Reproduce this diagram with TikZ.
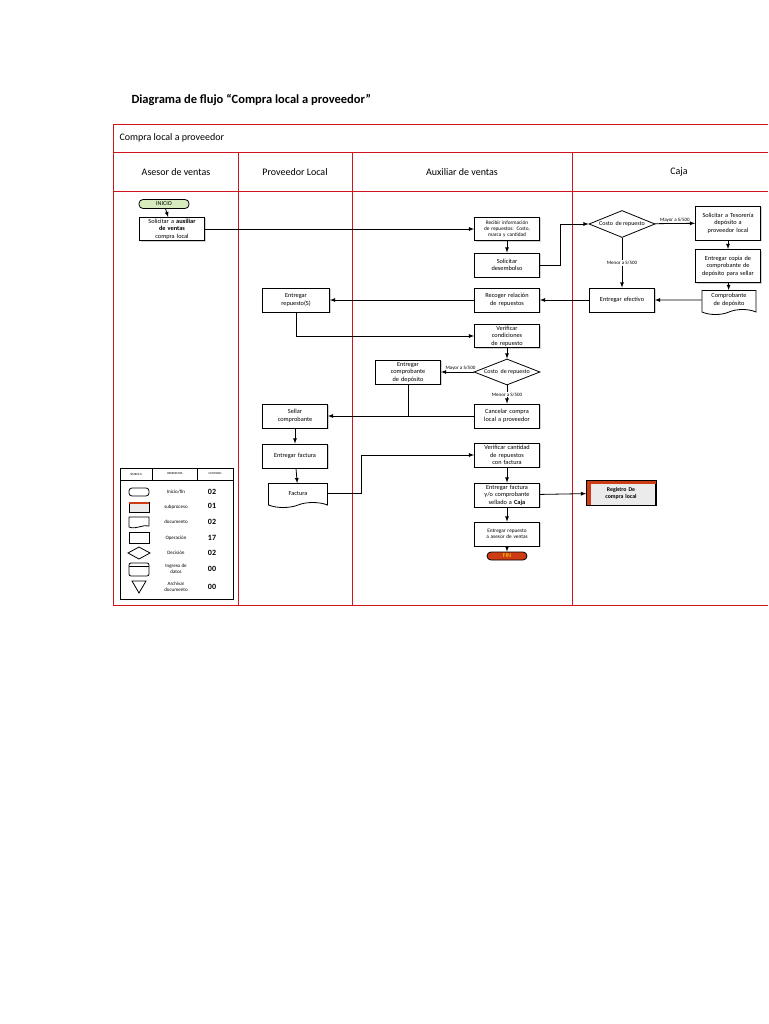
\documentclass[tikz,border=0pt]{standalone}
\usepackage{fontspec}
\setmainfont{Carlito}
\usetikzlibrary{shapes.geometric,shapes.symbols,shadows,calc}
\definecolor{lane}{RGB}{210,20,30}
\definecolor{startg}{RGB}{215,235,190}
\definecolor{finr}{RGB}{205,60,20}
\hyphenpenalty=10000
\exhyphenpenalty=10000
\begin{document}
\begin{tikzpicture}[x=1pt,y=-1pt,
  op/.style={draw,thick,fill=white,drop shadow={shadow xshift=1pt,shadow yshift=-1pt,fill=gray!70},minimum width=65pt,minimum height=24pt,text width=52pt,align=center,inner sep=1pt,font=\fontsize{6.3}{7.5}\selectfont},
  dec/.style={draw,thick,fill=white,diamond,aspect=2.5,minimum width=66pt,minimum height=27pt,inner sep=0pt,font=\fontsize{6}{7}\selectfont},
  term/.style={draw,thick,rounded corners=4pt,minimum height=9pt,inner sep=0pt,font=\fontsize{6}{7}\selectfont},
  doc/.style={draw,thick,fill=white,tape,tape bend top=none,tape bend height=5pt,minimum width=56pt,minimum height=24pt,text width=48pt,align=center,inner sep=1pt,font=\fontsize{6.3}{7.5}\selectfont},
  arr/.style={thick,-latex},
  lbl/.style={font=\fontsize{5}{6}\selectfont,inner sep=1pt},
  leg/.style={font=\fontsize{5}{6}\selectfont,align=center,inner sep=0pt},
  num/.style={font=\bfseries\fontsize{8}{9}\selectfont,inner sep=0pt}]
\useasboundingbox (0,0) rectangle (768,1024);
\fill[white] (0,0) rectangle (768,1024);
\node[anchor=west,font=\fontsize{12.5}{14}\selectfont\bfseries] (title) at (128,100) {Diagrama de flujo “Compra local a proveedor”};
% lanes
\draw[lane] (768,124) -- (113,124) -- (113,605) -- (768,605);
\draw[lane] (113,152) -- (768,152);
\draw[lane] (113,191) -- (768,191);
\foreach \x in {238,352,572} \draw[lane] (\x,152) -- (\x,605);
\node[anchor=west,font=\fontsize{10}{12}\selectfont] (h0) at (116,138) {Compra local a proveedor};
\node[font=\fontsize{10}{12}\selectfont] (h1) at (176,172) {Asesor de ventas};
\node[font=\fontsize{10}{12}\selectfont] (h2) at (295,172) {Proveedor Local};
\node[font=\fontsize{10}{12}\selectfont] (h3) at (462,172) {Auxiliar de ventas};
\node[font=\fontsize{10}{12}\selectfont] (h4) at (679,172) {Caja};
% nodes
\node[term,fill=startg,minimum width=50pt] (ini) at (164,204) {INICIO};
\node[op,minimum height=23pt] (s1) at (172,229) {Solicitar a \textbf{auxiliar de ventas} compra local};
\node[op,minimum height=23pt,font=\fontsize{5.3}{6.3}\selectfont] (rec) at (507,229) {Recibir información de repuestos: Costo, marca y cantidad};
\node[op] (sd) at (507,265) {Solicitar desembolso};
\node[dec] (d1) at (622,224) {Costo \ de repuesto};
\node[op,minimum height=34pt] (tes) at (728,223) {Solicitar a Tesorería depósito a proveedor local};
\node[op,minimum height=33pt,text width=58pt] (cop) at (728,266) {Entregar copia de comprobante de depósito para sellar};
\node[doc,minimum width=54pt] (cd) at (729,300) {Comprobante de depósito};
\node[op] (ef) at (622,300) {Entregar efectivo};
\node[op] (rr) at (507,300) {Recoger relación de repuestos};
\node[op,minimum width=67pt] (er) at (296,300) {Entregar repuesto(S)};
\node[op,minimum height=23pt,text width=50pt] (vc) at (507,336) {Verificar condiciones de repuesto};
\node[dec,minimum height=26pt] (d2) at (507,372) {Costo \ de repuesto};
\node[op,text width=58pt] (ec) at (408,372) {Entregar comprobante de depósito};
\node[op,text width=58pt] (cc) at (507,416) {Cancelar compra local a proveedor};
\node[op,text width=48pt] (sc) at (295,416) {Sellar comprobante};
\node[op] (ent) at (295,456) {Entregar factura};
\node[doc,minimum width=59pt] (fac) at (298,493) {Factura};
\node[op] (vq) at (507,455) {Verificar cantidad de repuestos con factura};
\node[op] (efy) at (507,495) {Entregar factura y/o comprobante sellado a \textbf{Caja}};
\node[op,font=\fontsize{5.3}{6.3}\selectfont] (era) at (507,534) {Entregar repuesto a asesor de ventas};
\node[term,fill=finr,text=yellow!80!orange,minimum width=40pt,minimum height=8pt] (fin) at (507,556) {FIN};
\node[op,fill=black!8,minimum width=69pt,text width=45pt,font=\bfseries\fontsize{5.8}{7}\selectfont] (reg) at (621,493) {Registro De compra local};
\fill[finr] (reg.north west) rectangle ($(reg.north east)+(0,3)$);
\fill[finr] (reg.north west) rectangle ($(reg.south west)+(5,0)$);
\draw[thick] (reg.north west) rectangle (reg.south east);
% edges
\draw[arr] (ini) -- (s1);
\draw[arr] (s1) -- (rec);
\draw[arr] (rec) -- (sd);
\draw[arr] (sd.east) -| (560,224) -- (d1.west);
\draw[arr] (d1) -- node[lbl,above]{Mayor a S/500} (tes);
\draw[arr] (d1) -- node[lbl,fill=white]{Menor a S/500} (ef);
\draw[arr] (tes) -- (cop);
\draw[arr] (cop) -- (cd);
\draw[arr] (cd) -- (ef);
\draw[arr] (ef) -- (rr);
\draw[arr] (rr) -- (er);
\draw[arr] (er.south) |- (vc.west);
\draw[arr] (vc) -- (d2);
\draw[arr] (d2) -- node[lbl,above,pos=0.4]{Mayor a S/500} (ec);
\draw[arr] (d2) -- node[lbl,fill=white]{Menor a S/500} (cc);
\draw[thick] (ec.south) -- (ec.south |- cc.west);
\draw[arr] (cc) -- (sc);
\draw[arr] (sc) -- (ent);
\draw[arr] (ent) -- (fac);
\draw[arr] (fac.east) -| (361,455) -- (vq.west);
\draw[arr] (vq) -- (efy);
\draw[arr] (efy) -- (era);
\draw[arr] (era) -- (fin);
\draw[arr] (efy) -- (reg);
% legend
\draw[thick] (120,468) rectangle (233,599);
\draw[thick] (120,480) -- (233,480);
\draw[thick] (152,468) -- (152,480) (197,468) -- (197,480);
\node[leg,font=\fontsize{3}{4}\selectfont] (l1) at (136,474) {SÍMBOLO};
\node[leg,font=\fontsize{3}{4}\selectfont] (l2) at (175,474) {REPRESENTA};
\node[leg,font=\fontsize{3}{4}\selectfont] (l3) at (215,474) {CANTIDAD};
\draw[thick,rounded corners=3pt] (129,488) rectangle (149,496);
\node[leg] (t1) at (176,492) {Inicio/fin}; \node[num] (n1) at (212,492) {02};
\draw[thick,fill=black!8] (129,502) rectangle (149,512); \fill[finr] (129,502) rectangle (149,504);
\node[leg] (t2) at (176,507) {subproceso}; \node[num] (n2) at (212,506) {01};
\draw[thick] (129,517) -- (149,517) -- (149,526) .. controls (143,524) and (136,530) .. (129,527) -- cycle;
\node[leg] (t3) at (176,522) {documento}; \node[num] (n3) at (212,522) {02};
\draw[thick] (129,532) rectangle (149,543);
\node[leg] (t4) at (176,538) {Operación}; \node[num] (n4) at (212,538) {17};
\draw[thick] (128,553) -- (139,547) -- (150,553) -- (139,559) -- cycle;
\node[leg] (t5) at (176,553) {Decisión}; \node[num] (n5) at (212,553) {02};
\draw[thick,rounded corners=2pt] (129,563) rectangle (149,576); \draw[thick] (129,566) -- (149,566);
\node[leg] (t6) at (176,569) {Ingreso de\\datos}; \node[num] (n6) at (212,569) {00};
\draw[thick] (132,581) -- (146,581) -- (139,593) -- cycle;
\node[leg] (t7) at (176,587) {Archivar\\documento}; \node[num] (n7) at (212,587) {00};
\end{tikzpicture}
\end{document}
